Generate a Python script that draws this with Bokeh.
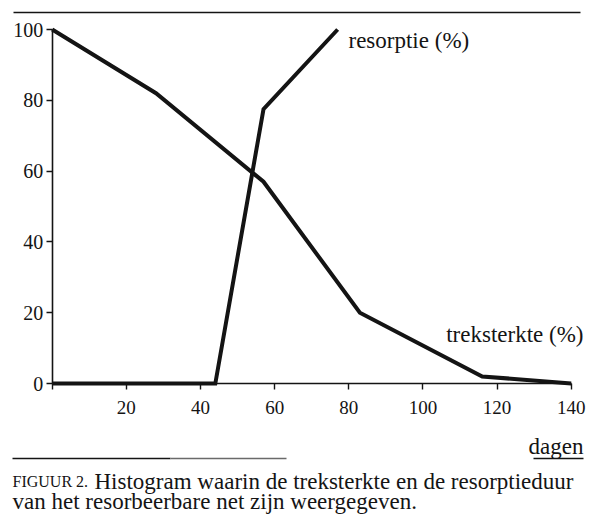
from bokeh.plotting import figure
from bokeh.models import LinearAxis, FixedTicker, Label
from bokeh.embed import file_html
from bokeh.resources import INLINE

# gegevens
dagen_trek = [0, 28, 57, 83, 116, 140]
treksterkte = [100, 82, 57, 20, 2, 0]
dagen_res = [0, 44, 57, 77]
resorptie = [0, 0, 77.5, 100]

x_ticks = [0, 20, 40, 60, 80, 100, 120, 140]
y_ticks = [0, 20, 40, 60, 80, 100]

font = "Liberation Serif"
ink = "#141414"

W, H = 600, 527
# plaats van de assen op het canvas (pixels)
X0, X1 = 51.7, 570.7   # dag 0 en dag 140
Y0, Y1 = 383.0, 29.0   # 0% en 100%
sx = (X1 - X0) / 140
sy = (Y0 - Y1) / 100
x_start, x_end = -X0 / sx, 140 + (W - X1) / sx
y_start, y_end = -(H - Y0) / sy, 100 + Y1 / sy


def px(xp):
    """pixel -> data x"""
    return x_start + xp / sx


def py(yp):
    """pixel -> data y"""
    return y_end - yp / sy


p = figure(width=W, height=H, x_range=(x_start, x_end), y_range=(y_start, y_end),
           output_backend="svg", toolbar_location=None, tools="",
           x_axis_location=None, y_axis_location=None, min_border=0)
p.grid.visible = False
p.outline_line_color = None
p.background_fill_color = "white"
p.border_fill_color = "white"

# assen
xaxis = LinearAxis(fixed_location=0, bounds=(0, 140), ticker=FixedTicker(ticks=x_ticks),
                   major_label_overrides={0: ""})
yaxis = LinearAxis(fixed_location=0, bounds=(0, 100), ticker=FixedTicker(ticks=y_ticks))
for ax in (xaxis, yaxis):
    ax.axis_line_color = ink
    ax.axis_line_width = 1.6
    ax.major_tick_line_color = ink
    ax.major_tick_line_width = 1.4
    ax.major_tick_in = 0
    ax.major_tick_out = 6
    ax.minor_tick_line_color = None
    ax.major_label_text_font = font
    ax.major_label_text_color = ink
xaxis.major_label_text_font_size = "19px"
xaxis.major_label_standoff = 11
yaxis.major_label_text_font_size = "20px"
yaxis.major_label_standoff = 3
p.add_layout(xaxis, "below")
p.add_layout(yaxis, "left")

# lijnen
p.line(dagen_trek, treksterkte, line_color=ink, line_width=4, line_join="miter")
p.line(dagen_res, resorptie, line_color=ink, line_width=4, line_join="miter")

# labels bij de lijnen
p.add_layout(Label(x=px(348), y=py(39.5), text="resorptie (%)", text_font=font,
                   text_font_size="23px", text_color=ink, text_baseline="alphabetic"))
p.add_layout(Label(x=px(583), y=py(334), text="treksterkte (%)", text_font=font,
                   text_font_size="23px", text_color=ink, text_align="right",
                   text_baseline="alphabetic"))
p.add_layout(Label(x=px(583), y=py(446), text="dagen", text_font=font,
                   text_font_size="23px", text_color=ink, text_align="right",
                   text_baseline="alphabetic"))

# regels boven en onder
p.segment(x0=[px(13)], y0=[py(12)], x1=[px(580)], y1=[py(12)], line_color=ink, line_width=1.6)
p.segment(x0=[px(12), px(170), px(533)], y0=[py(458)] * 3,
          x1=[px(170), px(286), px(583)], y1=[py(458)] * 3,
          line_color=[ink, "#6a6a6a", ink], line_width=1.6)

# onderschrift
p.add_layout(Label(x=px(12), y=py(481), text="FIGUUR 2.", text_font=font,
                   text_font_size="16px", text_color=ink, text_baseline="alphabetic"))
p.add_layout(Label(x=px(94), y=py(481), text="Histogram waarin de treksterkte en de resorptieduur",
                   text_font=font, text_font_size="23px", text_color=ink,
                   text_baseline="alphabetic"))
p.add_layout(Label(x=px(12), y=py(501), text="van het resorbeerbare net zijn weergegeven.",
                   text_font=font, text_font_size="23px", text_color=ink,
                   text_baseline="alphabetic"))

open("out.html", "w").write(file_html(p, INLINE, "figuur 2"))
